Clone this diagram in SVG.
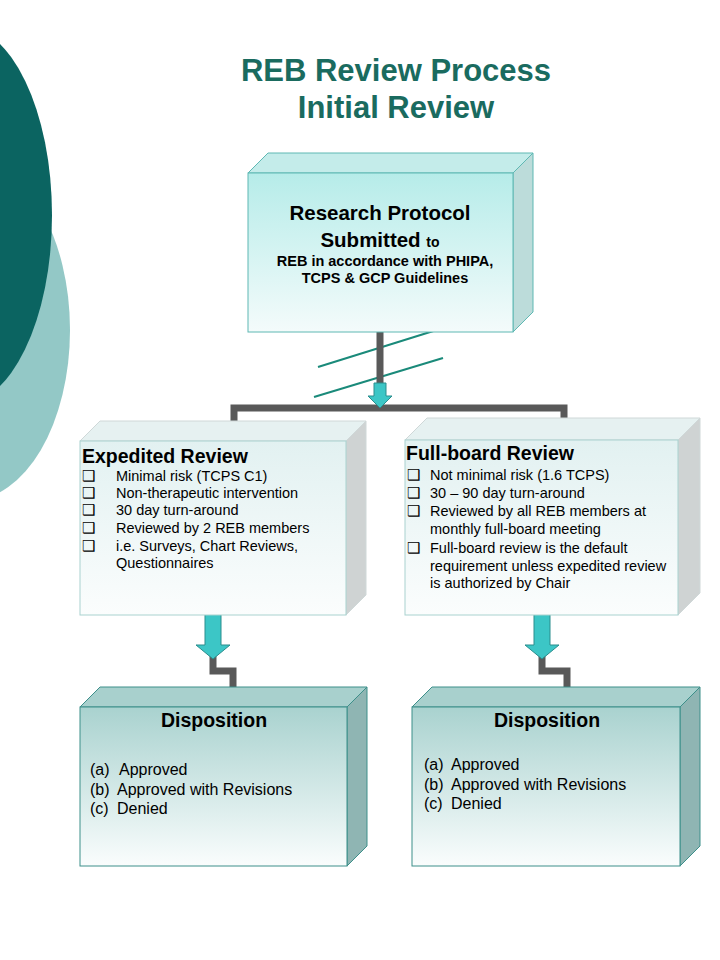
<svg xmlns="http://www.w3.org/2000/svg" width="720" height="960" viewBox="0 0 720 960">
<defs>
<linearGradient id="gTop" x1="0" y1="0" x2="0" y2="1"><stop offset="0" stop-color="#b6ece9"/><stop offset="1" stop-color="#f4fbfb"/></linearGradient>
<linearGradient id="gMid" x1="0" y1="0" x2="0" y2="1"><stop offset="0" stop-color="#e2f1f1"/><stop offset="1" stop-color="#fbfdfd"/></linearGradient>
<linearGradient id="gDisp" x1="0" y1="0" x2="0" y2="1"><stop offset="0" stop-color="#a9d2cf"/><stop offset="1" stop-color="#fafdfd"/></linearGradient>
<style>
.f{stroke:#5fb8b3;stroke-width:1}
.t{font-family:"Liberation Sans",Arial,sans-serif;fill:#000}
.bar{stroke:#595959;stroke-width:7;fill:none}
.arr{fill:#3cc6c6;stroke:#2a8d8d;stroke-width:1}
</style>
</defs>
<rect width="720" height="960" fill="#fff"/>
<ellipse cx="-30" cy="330" rx="100" ry="170" fill="#93c8c6"/>
<ellipse cx="-40" cy="215" rx="92" ry="190" fill="#0b6461"/>
<text class="t" x="396" y="81" font-size="31" font-weight="bold" text-anchor="middle" style="fill:#1a6b5f">REB Review Process</text>
<text class="t" x="396" y="118" font-size="31" font-weight="bold" text-anchor="middle" style="fill:#1a6b5f">Initial Review</text>

<g id="connectors">
<line x1="318" y1="367" x2="443" y2="328" stroke="#1a8a7a" stroke-width="2"/>
<line x1="314" y1="397" x2="443" y2="358" stroke="#1a8a7a" stroke-width="2"/>
<line class="bar" x1="380" y1="332" x2="380" y2="405"/>
<polyline class="bar" points="234,421 234,408 564,408 564,421"/>
<polygon class="arr" points="374,383 386,383 386,396 392,396 380,408 368,396 374,396"/>
<polyline class="bar" points="213,655 213,671 233,671 233,688"/>
<polyline class="bar" points="542,655 542,671 567,671 567,688"/>
<polygon class="arr" points="205,614 221,614 221,645 230,645 213,659 196,645 205,645"/>
<polygon class="arr" points="534,614 550,614 550,645 559,645 542,659 525,645 534,645"/>
</g>

<g id="protocol">
<polygon points="248,173 268,153 533,153 513,173" fill="#c4ecea" class="f"/>
<polygon points="513,173 533,153 533,312 513,332" fill="#bcdcda" class="f"/>
<rect x="248" y="173" width="265" height="159" fill="url(#gTop)" class="f"/>
<text class="t" x="380" y="220" font-size="20.5" font-weight="bold" text-anchor="middle">Research Protocol</text>
<text class="t" x="380" y="247" font-size="20.5" font-weight="bold" text-anchor="middle">Submitted <tspan font-size="14">to</tspan></text>
<text class="t" x="385" y="266" font-size="14.5" font-weight="bold" text-anchor="middle">REB in accordance with PHIPA,</text>
<text class="t" x="385" y="283" font-size="14.5" font-weight="bold" text-anchor="middle">TCPS &amp; GCP Guidelines</text>
</g>

<g id="expedited">
<polygon points="80,441 100,421 366,421 346,441" fill="#e6f1f1" stroke="#cfd8d8"/>
<polygon points="346,441 366,421 366,595 346,615" fill="#cfd3d3" stroke="#cfd8d8"/>
<rect x="80" y="441" width="266" height="174" fill="url(#gMid)" stroke="#a9d2cf"/>
<text class="t" x="82" y="463" font-size="19.5" font-weight="bold">Expedited Review</text>
<g class="t" font-size="14.5">
<text x="82" y="481">❑</text><text x="116" y="481">Minimal risk (TCPS C1)</text>
<text x="82" y="498">❑</text><text x="116" y="498">Non-therapeutic intervention</text>
<text x="82" y="515">❑</text><text x="116" y="515">30 day turn-around</text>
<text x="82" y="533">❑</text><text x="116" y="533">Reviewed by 2 REB members</text>
<text x="82" y="551">❑</text><text x="116" y="551">i.e. Surveys, Chart Reviews,</text>
<text x="116" y="568">Questionnaires</text>
</g>
</g>

<g id="fullboard">
<polygon points="405,440 427,418 700,418 678,440" fill="#e6f1f1" stroke="#cfd8d8"/>
<polygon points="678,440 700,418 700,593 678,615" fill="#cfd3d3" stroke="#cfd8d8"/>
<rect x="405" y="440" width="273" height="175" fill="url(#gMid)" stroke="#a9d2cf"/>
<text class="t" x="406" y="460" font-size="19.5" font-weight="bold">Full-board Review</text>
<g class="t" font-size="14.5">
<text x="407" y="480">❑</text><text x="430" y="480">Not minimal risk (1.6 TCPS)</text>
<text x="407" y="498">❑</text><text x="430" y="498">30 – 90 day turn-around</text>
<text x="407" y="516">❑</text><text x="430" y="516">Reviewed by all REB members at</text>
<text x="430" y="534">monthly full-board meeting</text>
<text x="407" y="553">❑</text><text x="430" y="553">Full-board review is the default</text>
<text x="430" y="571">requirement unless expedited review</text>
<text x="430" y="588">is authorized by Chair</text>
</g>
</g>

<g id="disp1">
<polygon points="80,707 100,687 367,687 347,707" fill="#a8d0cd" stroke="#3d8f8a"/>
<polygon points="347,707 367,687 367,846 347,866" fill="#8fb5b3" stroke="#3d8f8a"/>
<rect x="80" y="707" width="267" height="159" fill="url(#gDisp)" stroke="#3d8f8a"/>
<text class="t" x="214" y="727" font-size="19.5" font-weight="bold" text-anchor="middle">Disposition</text>
<g class="t" font-size="16">
<text x="90" y="775">(a)</text><text x="119" y="775">Approved</text>
<text x="90" y="795">(b)</text><text x="117" y="795">Approved with Revisions</text>
<text x="90" y="814">(c)</text><text x="117" y="814">Denied</text>
</g>
</g>

<g id="disp2">
<polygon points="412,707 432,687 700,687 680,707" fill="#a8d0cd" stroke="#3d8f8a"/>
<polygon points="680,707 700,687 700,846 680,866" fill="#8fb5b3" stroke="#3d8f8a"/>
<rect x="412" y="707" width="268" height="159" fill="url(#gDisp)" stroke="#3d8f8a"/>
<text class="t" x="547" y="727" font-size="19.5" font-weight="bold" text-anchor="middle">Disposition</text>
<g class="t" font-size="16">
<text x="424" y="770">(a)</text><text x="451" y="770">Approved</text>
<text x="424" y="790">(b)</text><text x="451" y="790">Approved with Revisions</text>
<text x="424" y="809">(c)</text><text x="451" y="809">Denied</text>
</g>
</g>
</svg>
